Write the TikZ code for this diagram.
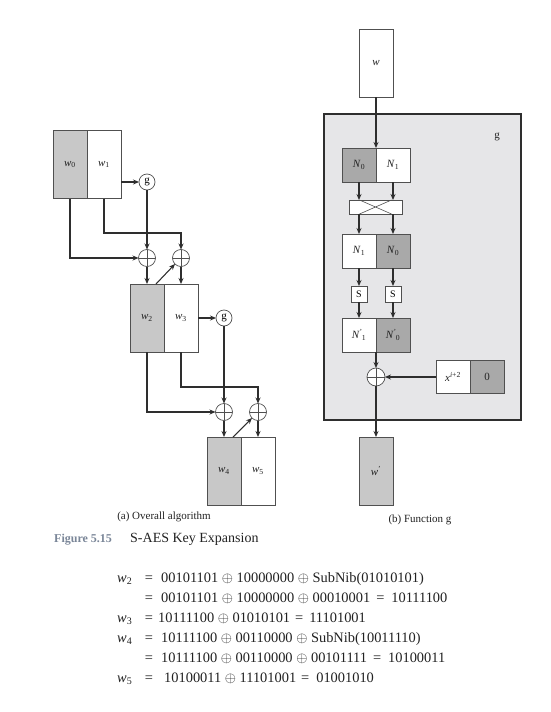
\documentclass[tikz,border=0pt]{standalone}
\usepackage{fontspec}
\setmainfont{Liberation Serif}
\usetikzlibrary{arrows.meta,calc}
\definecolor{lgray}{HTML}{C8C8C8}
\definecolor{dgray}{HTML}{A9A9A9}
\definecolor{gbg}{HTML}{E6E6E8}
\definecolor{linec}{HTML}{505050}
\definecolor{arrc}{HTML}{2E2E2E}
\definecolor{figc}{HTML}{7A8698}
\definecolor{eqc}{HTML}{222222}
\newcommand\wl[1]{\textit{w}\textsubscript{#1}}
\newcommand\nl[1]{\textit{N}\textsubscript{#1}}
\newcommand\npl[1]{\textit{N}\textsuperscript{'}\kern-1pt\textsubscript{#1}}
\begin{document}
\begin{tikzpicture}[x=1pt,y=-1pt,
  cell/.style={draw=linec, line width=0.7pt, minimum width=34pt, minimum height=68pt,
    inner sep=0pt, outer sep=0pt, font=\fontsize{11}{13}\selectfont, text=eqc},
  xorn/.style={circle, draw=linec, line width=0.7pt, minimum size=17pt, inner sep=0pt, outer sep=0pt, fill=white,
    path picture={\draw[linec, line width=0.7pt] (path picture bounding box.north) -- (path picture bounding box.south)
      (path picture bounding box.west) -- (path picture bounding box.east);}},
  gf/.style={circle, draw=linec, line width=0.7pt, minimum size=16pt, inner sep=0pt, outer sep=0pt, fill=white,
    font=\fontsize{11}{13}\selectfont},
  sbox/.style={draw=linec, line width=0.7pt, minimum size=16pt, inner sep=0pt, outer sep=0pt, fill=white,
    font=\fontsize{10}{12}\selectfont},
  arr/.style={draw=arrc, line width=1.05pt, -{Stealth[length=6pt,width=5pt]}},
  eq/.style={font=\fontsize{14.4}{17}\selectfont, text=eqc, inner sep=0pt},
  captext/.style={font=\fontsize{11}{13}\selectfont, text=eqc, inner sep=0pt}
]
\useasboundingbox (0,0) rectangle (551,712);
\fill[white] (0,0) rectangle (551,712);

% ---------- (a) overall algorithm ----------
\node[cell,fill=lgray] (w0) at (70,164.5) {\wl{0}};
\node[cell,fill=white] (w1) at (104,164.5) {\wl{1}};
\node[gf] (g1) at (147,182) {g};
\node[xorn] (x1) at (147,258) {};
\node[xorn] (x2) at (181,258) {};
\node[cell,fill=lgray] (w2) at (147,318) {\wl{2}};
\node[cell,fill=white] (w3) at (181,318) {\wl{3}};
\node[gf] (g2) at (224,318) {g};
\node[xorn] (x3) at (224,412) {};
\node[xorn] (x4) at (258,412) {};
\node[cell,fill=lgray] (w4) at (224,471) {\wl{4}};
\node[cell,fill=white] (w5) at (258,471) {\wl{5}};
\coordinate (t1) at (104,233);
\coordinate (t2) at (181,387);

\draw[arr] (w1.east |- g1) -- (g1);
\draw[arr] (g1) -- (x1);
\draw[arr] (w0.south) |- (x1);
\draw[arr] (w1.south) -- (t1) -| (x2);
\draw[arr] (x1) -- (w2);
\draw[arr] (x2) -- (w3);
\draw[arr] ($(w2.north)+(9,0)$) -- (x2.south west);
\draw[arr] (w3.east |- g2) -- (g2);
\draw[arr] (g2) -- (x3);
\draw[arr] (w2.south) |- (x3);
\draw[arr] (w3.south) -- (t2) -| (x4);
\draw[arr] (x3) -- (w4);
\draw[arr] (x4) -- (w5);
\draw[arr] ($(w4.north)+(9,0)$) -- (x4.south west);

\node[captext] (capa) at (164,517) {(a) Overall algorithm};

% ---------- (b) function g ----------
\node[cell,fill=white] (w) at (376,63) {\textit{w}};
\node[draw=arrc, line width=1.1pt, fill=gbg, minimum width=197pt, minimum height=306pt, inner sep=0pt, outer sep=0pt] (gbox) at (422.5,267) {};
\node[captext] (glab) at (497,137) {g};
\node[cell,fill=dgray,minimum height=34pt] (n0) at (359,165) {\nl{0}};
\node[cell,fill=white,minimum height=34pt] (n1) at (393,165) {\nl{1}};
\node[draw=linec, line width=0.7pt, fill=white, minimum width=53pt, minimum height=14pt, inner sep=0pt, outer sep=0pt] (sw) at (375.5,207) {};
\draw[linec, line width=0.6pt] ($(sw.north)+(-16,0)$) -- ($(sw.south)+(16,0)$)
  ($(sw.north)+(16,0)$) -- ($(sw.south)+(-16,0)$);
\node[cell,fill=white,minimum height=34pt] (m1) at (359,251) {\nl{1}};
\node[cell,fill=dgray,minimum height=34pt] (m0) at (393,251) {\nl{0}};
\node[sbox] (s1) at (359,294) {S};
\node[sbox] (s0) at (393,294) {S};
\node[cell,fill=white,minimum height=34pt] (p1) at (359,335) {\npl{1}};
\node[cell,fill=dgray,minimum height=34pt] (p0) at (393,335) {\npl{0}};
\node[xorn,minimum size=18pt] (x5) at (376,377) {};
\node[cell,fill=white,minimum height=33pt] (xi) at (453,377) {\textit{x}\textsuperscript{\textit{i}+2}};
\node[cell,fill=dgray,minimum height=33pt] (z) at (487,377) {0};
\node[cell,fill=lgray] (wp) at (376,471) {\textit{w}\textsuperscript{'}};

\draw[arr] (w) -- (n0.north east);
\draw[arr] (n0) -- (n0 |- sw.north);
\draw[arr] (n1) -- (n1 |- sw.north);
\draw[arr] (sw.south -| m1) -- (m1);
\draw[arr] (sw.south -| m0) -- (m0);
\draw[arr] (m1) -- (s1);
\draw[arr] (m0) -- (s0);
\draw[arr] (s1) -- (p1);
\draw[arr] (s0) -- (p0);
\draw[arr] (p1.south east) -- (x5);
\draw[arr] (xi) -- (x5);
\draw[arr] (x5) -- (wp);

\node[captext] (capb) at (420,520) {(b) Function g};

% ---------- figure caption ----------
\node[anchor=base west, inner sep=0pt, font=\fontsize{12}{14}\selectfont\bfseries, text=figc] (fig) at (54,542) {Figure 5.15};
\node[anchor=base west, inner sep=0pt, font=\fontsize{14}{17}\selectfont, text=eqc] (figt) at (130,542) {S-AES Key Expansion};

% ---------- equations ----------
\node[eq,anchor=base west] (e1w) at (117,582) {\wl{2}};
\node[eq,anchor=base] (e1e) at (149,582) {=};
\node[eq,anchor=base west] (e1) at (161,582) {00101101 $\oplus$ 10000000 $\oplus$ SubNib(01010101)};
\node[eq,anchor=base] (e2e) at (149,602) {=};
\node[eq,anchor=base west] (e2) at (161,602) {00101101 $\oplus$ 10000000 $\oplus$ 00010001\hspace{6pt}=\hspace{7pt}10111100};
\node[eq,anchor=base west] (e3w) at (117,622) {\wl{3}};
\node[eq,anchor=base] (e3e) at (149,622) {=};
\node[eq,anchor=base west] (e3) at (158,622) {10111100 $\oplus$ 01010101\hspace{5pt}=\hspace{6pt}11101001};
\node[eq,anchor=base west] (e4w) at (117,642) {\wl{4}};
\node[eq,anchor=base] (e4e) at (149,642) {=};
\node[eq,anchor=base west] (e4) at (161,642) {10111100 $\oplus$ 00110000 $\oplus$ SubNib(10011110)};
\node[eq,anchor=base] (e5e) at (149,662) {=};
\node[eq,anchor=base west] (e5) at (161,662) {10111100 $\oplus$ 00110000 $\oplus$ 00101111\hspace{6pt}=\hspace{7pt}10100011};
\node[eq,anchor=base west] (e6w) at (117,682) {\wl{5}};
\node[eq,anchor=base] (e6e) at (149,682) {=};
\node[eq,anchor=base west] (e6) at (164,682) {10100011 $\oplus$ 11101001\hspace{5pt}=\hspace{7pt}01001010};
\end{tikzpicture}
\end{document}
